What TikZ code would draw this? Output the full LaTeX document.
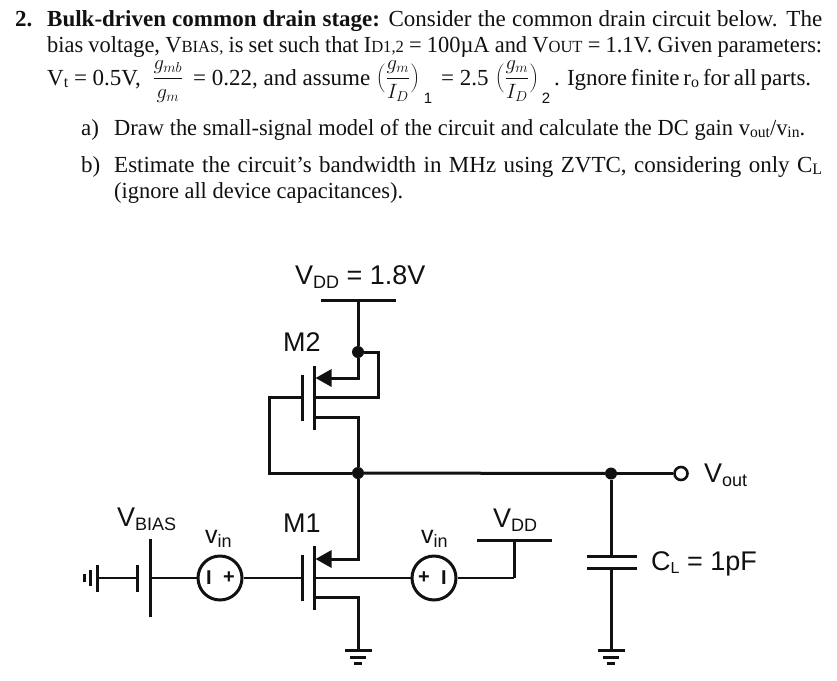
\documentclass[tikz,border=0pt]{standalone}
\usepackage{fontspec}
\setmainfont{Liberation Serif}
\newfontfamily\sansf{Liberation Sans}
\newfontfamily\condf[FakeStretch=0.975]{Liberation Serif}
\usetikzlibrary{arrows.meta}
\definecolor{ink}{HTML}{111111}
\newcommand{\txtsize}{\fontsize{23}{26}\selectfont}
\newcommand{\lowsub}[1]{\raisebox{-2pt}{\fontsize{16}{18}\selectfont #1}}
\newcommand{\capsm}[1]{{\fontsize{17}{18}\selectfont #1}}
\newcommand{\SubS}[1]{\raisebox{-4pt}{\fontsize{18}{20}\selectfont #1}}
\tikzset{
  x=1pt,y=-1pt,
  para/.style={anchor=base west,inner sep=0pt,font=\txtsize,text=ink},
  mth/.style={anchor=center,inner sep=0pt,font=\fontsize{17.28}{20}\selectfont,text=ink,scale=1.2,transform shape},
  lab/.style={anchor=base west,inner sep=0pt,font=\sansf\fontsize{27}{30}\selectfont,text=ink},
  wire/.style={line width=3pt,draw=ink,line join=miter},
  thinw/.style={line width=2.6pt,draw=ink},
  dotn/.style={circle,fill=ink,inner sep=0pt,minimum size=12pt},
  termn/.style={circle,draw=ink,fill=white,line width=2.6pt,inner sep=0pt,minimum size=13pt},
  srcn/.style={circle,draw=ink,fill=white,line width=3pt,inner sep=0pt,minimum size=44pt},
  sign/.style={inner sep=0pt,font=\sansf\bfseries\fontsize{20}{20}\selectfont,text=ink},
  srcarrow/.style={wire,-{Triangle[length=16pt,width=17pt,fill=ink]},shorten >=0pt},
}
\begin{document}
\begin{tikzpicture}
\useasboundingbox (0,0) rectangle (837,680);
\fill[white] (0,0) rectangle (837,680);
% ---- text
\node[para] (t0) at (15,26) {\textbf{2.}};
\node[para] (t1) at (47,26) {\makebox[775pt][s]{\textbf{Bulk-driven common drain stage:} Consider the common drain circuit below. The}};
\node[para] (t2) at (47,52) {\makebox[775pt][s]{\condf bias voltage, V\capsm{BIAS,} is set such that I\capsm{D1,2} = 100µA and V\capsm{OUT} = 1.1V. Given parameters:}};
\node[para] (t3a) at (47,85) {V\lowsub{t} = 0.5V,};
\node[mth] (f1) at (168,81.5) {$\displaystyle\frac{g_{mb}}{g_m}$};
\node[para] (t3b) at (193,85) {= 0.22, and assume};
\node[mth] (f2) at (398,81) {$\displaystyle\Bigg(\frac{g_m}{I_D}\Bigg)$};
\node[inner sep=0pt,font=\sansf\fontsize{15}{15}\selectfont,text=ink] (s1) at (428,98) {1};
\node[para] (t3c) at (441,85) {= 2.5};
\node[mth] (f3) at (517,81) {$\displaystyle\Bigg(\frac{g_m}{I_D}\Bigg)$};
\node[inner sep=0pt,font=\sansf\fontsize{15}{15}\selectfont,text=ink] (s2) at (546,98) {2};
\node[para] (t3d) at (554,85) {\makebox[257pt][s]{. Ignore finite r\lowsub{o} for all parts.}};
\node[para] (ta) at (81,135) {a)};
\node[para] (tat) at (114,135) {\makebox[691pt][s]{\condf Draw the small-signal model of the circuit and calculate the DC gain v\lowsub{out}/v\lowsub{in}.}};
\node[para] (tb) at (81,172) {b)};
\node[para] (tbt) at (114,172) {\makebox[708pt][s]{Estimate the circuit’s bandwidth in MHz using ZVTC, considering only C\lowsub{L}}};
\node[para] (tc) at (114,198) {\condf (ignore all device capacitances).};
% ---- circuit labels
\node[lab] (lvdd) at (295,284) {V\SubS{DD} = 1.8V};
\node[lab] (lm2) at (283,351) {M2};
\node[lab] (lm1) at (283,532) {M1};
\node[lab] (lbias) at (117,526) {V\SubS{BIAS}};
\node[lab,font=\sansf\fontsize{25}{28}\selectfont] (lvin1) at (205,543) {v\SubS{in}};
\node[lab,font=\sansf\fontsize{25}{28}\selectfont] (lvin2) at (421,543) {v\SubS{in}};
\node[lab] (lvdd2) at (493,527) {V\SubS{DD}};
\node[lab] (lvout) at (704,482) {V\SubS{out}};
\node[lab] (lcl) at (651,570) {C\raisebox{-3pt}{\fontsize{16}{18}\selectfont L} = 1pF};
% ---- M2 coordinates
\coordinate (vddL) at (321,300.5);
\coordinate (vddR) at (396,300.5);
\coordinate (vddM) at (358,300.5);
\node[dotn] (n1) at (358,352) {};
\coordinate (n1r) at (378,352);
\coordinate (b2r) at (378,397);
\coordinate (b2) at (314,397);
\coordinate (s2a) at (358,378);
\coordinate (s2t) at (315.5,378);
\coordinate (ch2t) at (314,366);
\coordinate (ch2b) at (314,430);
\coordinate (g2t) at (302,375);
\coordinate (g2b) at (302,421);
\coordinate (g2) at (302,397);
\coordinate (g2l) at (269,397);
\coordinate (g2d) at (269,473);
\coordinate (d2) at (314,417);
\coordinate (d2r) at (358,417);
\node[dotn] (n2) at (358,473) {};
\node[dotn] (n3) at (611,473.5) {};
\node[termn] (vout) at (681,473.5) {};
% ---- M1 coordinates
\coordinate (s1a) at (358,559);
\coordinate (s1t) at (315.5,559);
\coordinate (ch1t) at (314,546);
\coordinate (ch1b) at (314,610);
\coordinate (g1t) at (302,555);
\coordinate (g1b) at (302,601);
\coordinate (g1) at (302,578);
\coordinate (b1) at (314,578);
\coordinate (d1) at (314,597);
\coordinate (d1r) at (358,597);
\coordinate (gnd1) at (358,650);
\node[srcn] (v2) at (434,578) {};
\node[srcn] (v1) at (220,578) {};
\node[sign] (v1m) at (209,578) {I};
\node[sign] (v1p) at (229,578) {+};
\node[sign] (v2p) at (424,578) {+};
\node[sign] (v2m) at (444,578) {I};
\coordinate (vr) at (514,578);
\coordinate (vt) at (514,540);
\coordinate (vtL) at (477,540);
\coordinate (vtR) at (552,540);
% ---- bias cap
\coordinate (cbR) at (150,578);
\coordinate (cbRt) at (150,539);
\coordinate (cbRb) at (150,617);
\coordinate (cbL) at (137,578);
\coordinate (cbLt) at (137,565);
\coordinate (cbLb) at (137,592);
\coordinate (gl1) at (97,578);
% ---- load cap
\coordinate (c1) at (611,556);
\coordinate (c2) at (611,568);
\coordinate (gnd2) at (611,650);
% ---- wires
\draw[wire] (vddL) -- (vddR);
\draw[wire] (vddM) -- (n1);
\draw[wire] (n1) -- (n1r) -- (b2r) -- (b2);
\draw[srcarrow] (n1) -- (s2a) -- (s2t);
\draw[wire] (ch2t) -- (ch2b);
\draw[wire] (g2t) -- (g2b);
\draw[wire] (g2) -- (g2l) -- (g2d) -- (n2);
\draw[wire] (d2) -- (d2r) -- (n2);
\draw[wire] (n2) -- (n3);
\draw[wire] (n3) -- (vout);
\draw[srcarrow] (n2) -- (s1a) -- (s1t);
\draw[wire] (ch1t) -- (ch1b);
\draw[wire] (g1t) -- (g1b);
\draw[wire] (d1) -- (d1r) -- (gnd1);
\draw[thinw] (b1) -- (v2);
\draw[thinw] (g1) -- (v1);
\draw[thinw] (v2) -- (vr);
\draw[wire] (vr) -- (vt);
\draw[wire] (vtL) -- (vtR);
\draw[thinw] (v1) -- (cbR);
\draw[wire] (cbRt) -- (cbRb);
\draw[wire] (cbLt) -- (cbLb);
\draw[thinw] (cbL) -- (gl1);
\draw[wire] (n3) -- (c1);
\draw[wire] (c2) -- (gnd2);
\draw[wire] (587,556) -- (637,556);
\draw[wire] (587,568) -- (637,568);
% ---- grounds
\draw[wire] (97,565) -- (97,592);
\draw[wire] (90,570) -- (90,586);
\draw[wire] (84,574) -- (84,582);
\draw[wire] (345,650) -- (372,650);
\draw[wire] (350,657) -- (366,657);
\draw[wire] (354,663) -- (362,663);
\draw[wire] (598,650) -- (625,650);
\draw[wire] (603,657) -- (619,657);
\draw[wire] (607,663) -- (615,663);
\end{tikzpicture}
\end{document}
